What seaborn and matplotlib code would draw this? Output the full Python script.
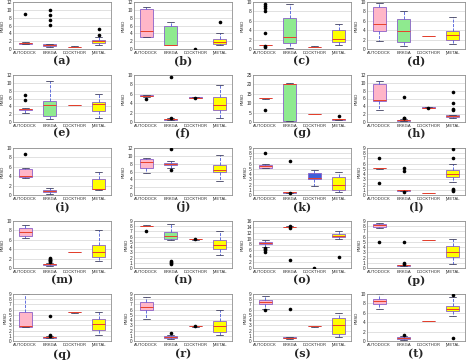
import numpy as np
import pandas as pd
import matplotlib
matplotlib.use("Agg")
import matplotlib.pyplot as plt
import seaborn as sns

TOOLS = ["AUTODOCK", "BRKGA", "DOCKTHOR", "jMETAL"]
PANELS = list("abcdefghijklmnopqrst")
YMAX = [12, 12, 10, 10, 12, 10, 25, 12, 10, 12, 9, 9, 10, 9, 16, 9, 9, 9, 9, 10]
YSTEP = [2, 2, 2, 2, 2, 2, 5, 2, 2, 2, 1, 1, 2, 1, 2, 1, 1, 1, 1, 2]

# (whisker low, Q1, median, Q3, whisker high) per panel
AUTODOCK = [
    (1.3, 1.4, 1.5, 1.6, 1.7), (3.0, 3.0, 4.5, 10.3, 10.8), (0.8, 0.8, 0.85, 0.9, 0.95),
    (1.7, 3.8, 5.3, 8.9, 9.7), (2.4, 3.0, 3.2, 3.4, 3.6), (5.3, 5.45, 5.6, 5.7, 5.8),
    (12.5, 12.55, 12.6, 12.65, 12.7), (3.0, 5.4, 5.5, 9.7, 10.5), (3.7, 3.9, 4.0, 5.5, 5.8),
    (5.5, 6.8, 8.5, 9.3, 9.5), (5.1, 5.25, 5.5, 5.8, 5.9), (5.05, 5.08, 5.1, 5.12, 5.15),
    (6.3, 6.8, 7.6, 8.5, 9.2), (8.05, 8.08, 8.1, 8.12, 8.15), (7.2, 8.2, 8.5, 8.7, 9.4),
    (7.6, 7.8, 8.2, 8.5, 8.6), (2.6, 2.7, 2.8, 5.5, 9.0), (4.3, 6.0, 6.6, 7.4, 8.5),
    (6.2, 7.0, 7.5, 7.8, 8.6), (6.9, 7.8, 8.5, 9.0, 9.9),
]
AUTODOCK_OUT = [[9.0], [], [0.5, 0.6, 3.3, 8.0, 8.7, 9.1, 9.5], [], [5.5, 6.9], [5.0], [6.3], [],
                [8.8], [], [8.0], [2.3, 7.1], [], [7.1], [5.6, 6.0, 6.4, 6.8], [4.9], [], [],
                [6.0], []]

BRKGA = [
    (0.6, 0.8, 1.0, 1.2, 1.4), (0.9, 1.0, 1.0, 5.8, 6.9), (0.3, 1.2, 2.5, 6.5, 9.5),
    (0.6, 1.4, 3.8, 6.3, 8.0), (0.7, 1.5, 4.3, 5.3, 10.5), (0.45, 0.5, 0.6, 0.7, 0.75),
    (0.3, 0.5, 20.0, 20.2, 20.5), (0.2, 0.3, 0.4, 0.6, 0.7), (0.3, 0.7, 0.85, 1.0, 1.4),
    (7.0, 7.6, 7.9, 8.2, 8.8), (0.35, 0.4, 0.5, 0.6, 0.65), (0.7, 0.8, 0.9, 1.0, 1.05),
    (0.5, 0.7, 0.8, 0.9, 1.0), (5.3, 5.5, 6.2, 6.8, 8.4), (13.8, 13.85, 14.0, 14.1, 14.2),
    (0.35, 0.4, 0.5, 0.6, 0.65), (0.5, 0.6, 0.7, 0.8, 0.9), (0.3, 0.5, 0.7, 0.9, 1.2),
    (0.4, 0.5, 0.6, 0.7, 0.8), (0.3, 0.5, 0.65, 0.8, 1.0),
]
BRKGA_OUT = [[6.2, 7.5, 8.7, 10.0], [], [], [], [], [0.9, 9.6], [], [0.9, 1.1, 6.5], [],
             [6.3, 11.8], [0.3, 6.5], [0.6, 4.6, 5.2], [1.2, 1.4, 1.6, 1.8, 2.0, 2.2],
             [0.8, 1.0, 1.2, 1.4], [2.7, 13.5, 14.4], [0.8, 1.0, 4.9], [1.0, 1.2, 4.7],
             [1.5], [6.1], [1.3]]

DOCKTHOR = [
    (0.55, 0.58, 0.6, 0.62, 0.65), (0.05, 0.05, 0.05, 0.05, 0.05), (0.45, 0.48, 0.5, 0.52, 0.55),
    (2.75, 2.78, 2.8, 2.82, 2.85), (4.25, 4.28, 4.3, 4.32, 4.35), (5.15, 5.18, 5.2, 5.22, 5.25),
    (4.1, 4.2, 4.3, 4.4, 4.5), (3.65, 3.68, 3.7, 3.72, 3.75), (0.0, 0.0, 0.0, 0.0, 0.0),
    (0.0, 0.0, 0.0, 0.0, 0.0), (1.8, 3.0, 3.2, 4.2, 4.8), (0.35, 0.38, 0.4, 0.42, 0.45),
    (3.35, 3.38, 3.4, 3.42, 3.45), (5.45, 5.48, 5.5, 5.52, 5.55), (0.05, 0.05, 0.05, 0.05, 0.05),
    (5.35, 5.38, 5.4, 5.42, 5.45), (5.45, 5.48, 5.5, 5.52, 5.55), (2.75, 2.78, 2.8, 2.82, 2.85),
    (2.75, 2.78, 2.8, 2.82, 2.85), (4.15, 4.18, 4.2, 4.22, 4.25),
]
DOCKTHOR_OUT = [[], [0.05], [], [], [], [5.2], [], [3.7], [], [], [], [], [], [5.5], [0.05],
                [], [], [2.8], [], []]

JMETAL = [
    (1.1, 1.6, 2.0, 2.4, 3.0), (1.0, 1.3, 1.8, 2.6, 4.0), (0.9, 1.4, 2.1, 4.0, 5.4),
    (1.1, 1.9, 3.0, 3.8, 6.8), (1.0, 2.9, 4.5, 5.1, 7.1), (0.9, 2.5, 3.7, 5.3, 7.8),
    (1.0, 1.2, 1.4, 1.6, 1.8), (0.9, 1.2, 1.5, 1.7, 1.9), (1.1, 1.2, 1.3, 3.4, 4.9),
    (3.7, 5.8, 6.5, 7.6, 10.2), (0.6, 0.9, 2.0, 3.5, 4.5), (2.5, 3.5, 4.0, 4.8, 6.0),
    (1.5, 2.4, 3.4, 4.8, 8.1), (2.5, 3.6, 4.4, 5.4, 7.0), (10.0, 10.4, 11.0, 11.5, 12.5),
    (0.7, 2.2, 3.1, 4.2, 5.5), (1.1, 2.2, 3.3, 4.3, 5.6), (1.2, 1.8, 2.8, 3.9, 6.0),
    (0.7, 1.4, 3.0, 4.4, 5.3), (5.3, 6.3, 6.8, 7.5, 9.3),
]
JMETAL_OUT = [[3.7, 5.0], [7.0], [], [], [], [], [3.0], [3.1, 3.3, 4.8, 7.6], [], [], [],
              [0.7, 0.9, 1.2, 7.1, 8.8], [], [], [3.6], [], [], [], [], [0.6, 9.8]]

COLORS = {"AUTODOCK": "#ffb6c8", "BRKGA": "#8fea8f", "DOCKTHOR": "#3f5fd8", "jMETAL": "#ffff00"}

STATS = {"AUTODOCK": AUTODOCK, "BRKGA": BRKGA, "DOCKTHOR": DOCKTHOR, "jMETAL": JMETAL}
OUTS = {"AUTODOCK": AUTODOCK_OUT, "BRKGA": BRKGA_OUT, "DOCKTHOR": DOCKTHOR_OUT, "jMETAL": JMETAL_OUT}

sns.set_style("white")
plt.rcParams["font.family"] = ["Liberation Sans", "DejaVu Sans"]

W, H = 474, 361
fig = plt.figure(figsize=(W / 100, H / 100), dpi=100)

col_left = [13, 134, 253, 367]
row_top = [2, 75, 148, 221, 294]
aw, ah = 98, 47
label_y = [61, 133, 207, 280, 354]

for i, p in enumerate(PANELS):
    r, c = divmod(i, 4)
    x0, y0 = col_left[c], row_top[r]
    ax = fig.add_axes([x0 / W, 1 - (y0 + ah) / H, aw / W, ah / H])
    rows = []
    for t in TOOLS:
        for v in STATS[t][i]:
            rows.append((t, v))
    df = pd.DataFrame(rows, columns=["tool", "RMSD"])
    sns.boxplot(data=df, x="tool", y="RMSD", hue="tool", order=TOOLS, hue_order=TOOLS,
                palette=COLORS, saturation=1, whis=(0, 100), showfliers=False,
                width=0.55, linewidth=0.6, legend=False, ax=ax,
                boxprops=dict(edgecolor="#8a60c8"),
                medianprops=dict(color="#e8402a", linewidth=0.7),
                whiskerprops=dict(color="#4a5ad8", linestyle="--", linewidth=0.6),
                capprops=dict(color="#404060", linewidth=0.6))
    frows = [(t, v) for t in TOOLS for v in OUTS[t][i]]
    if frows:
        fdf = pd.DataFrame(frows, columns=["tool", "RMSD"])
        sns.stripplot(data=fdf, x="tool", y="RMSD", order=TOOLS, jitter=False,
                      color="black", size=2.6, ax=ax, zorder=5)
    ax.set_xlim(-0.5, 3.5)
    ax.set_ylim(0, YMAX[i])
    ax.set_yticks(np.arange(0, YMAX[i] + 0.01, YSTEP[i]))
    ax.yaxis.grid(True, color="#d4d4d4", linewidth=0.5)
    ax.set_axisbelow(True)
    ax.set_xlabel("")
    ax.set_ylabel("RMSD", fontsize=3.0, labelpad=1.0)
    ax.tick_params(axis="x", labelsize=3.0, length=0, pad=1.5)
    ax.tick_params(axis="y", labelsize=3.4, length=1.5, pad=1, direction="in")
    for s in ax.spines.values():
        s.set_color("#909090")
        s.set_linewidth(0.6)
    fig.text((x0 + aw / 2) / W, 1 - label_y[r] / H, f"({p})", ha="center", va="center",
             fontsize=8, fontweight="bold", family="DejaVu Serif")

fig.savefig("out.png", dpi=100)
